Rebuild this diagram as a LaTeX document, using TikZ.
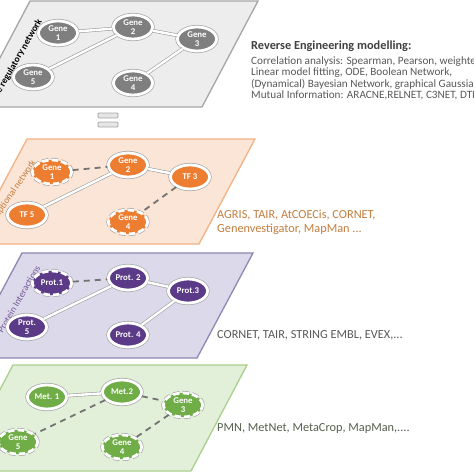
\documentclass[tikz,border=0pt]{standalone}
\usepackage{fontspec}
\setmainfont{Carlito}
\usetikzlibrary{shapes.geometric}
\definecolor{gplane}{HTML}{EDEDED}
\definecolor{gborder}{HTML}{A6A6A6}
\definecolor{gnodec}{HTML}{7F7F7F}
\definecolor{oplane}{HTML}{FBE5D6}
\definecolor{oborder}{HTML}{F4B183}
\definecolor{onodec}{HTML}{ED7D31}
\definecolor{pplane}{HTML}{DCD9EA}
\definecolor{pborder}{HTML}{8E86B4}
\definecolor{pnodec}{HTML}{5B3A87}
\definecolor{mplane}{HTML}{E2F0D9}
\definecolor{mborder}{HTML}{A9D18E}
\definecolor{mnodec}{HTML}{70AD47}
\definecolor{headc}{HTML}{404040}
\definecolor{bodyc}{HTML}{595959}
\definecolor{otextc}{HTML}{C37D3F}
\definecolor{mtextc}{HTML}{55604D}
\tikzset{
  plane/.style={line width=1.3pt},
  netnode/.style={ellipse, minimum width=39pt, minimum height=24pt, inner sep=0pt,
    align=center, font=\bfseries\fontsize{8.8}{9.5}\selectfont, text=white,
    draw=white, line width=2.8pt, preaction={draw=black!35, line width=4.2pt}},
  dashnode/.style={netnode, dash pattern=on 6.5pt off 3pt},
  soled/.style={draw=black!38, line width=0.6pt, double=white, double distance=2.4pt},
  dashed edge/.style={draw=black!55, line width=1.8pt, dash pattern=on 6pt off 5pt},
  layerlabel/.style={rotate=60, anchor=east, inner sep=0pt, font=\fontsize{9.5}{9.5}\selectfont},
  bodytext/.style={anchor=base west, inner sep=0pt, text=bodyc, font=\fontsize{11.2}{12}\selectfont},
  dbtext/.style={anchor=base west, inner sep=0pt, font=\fontsize{12.3}{14}\selectfont}
}
\begin{document}
\begin{tikzpicture}[x=1pt, y=-1pt]
\useasboundingbox (0,0) rectangle (474,474);
\clip (0,0) rectangle (474,474);
\fill[white] (0,0) rectangle (474,474);

% planes
\draw[plane, fill=gplane, draw=gborder] (30,1) -- (258,1) -- (202,107) -- (-26,107) -- cycle;
\draw[plane, fill=oplane, draw=oborder] (27,139) -- (255,139) -- (199,244) -- (-29,244) -- cycle;
\draw[plane, fill=pplane, draw=pborder] (22,253) -- (253,253) -- (197,358) -- (-34,358) -- cycle;
\draw[plane, fill=mplane, draw=mborder] (13,365) -- (247,365) -- (191,471) -- (-43,471) -- cycle;

% equal sign
\draw[gborder, fill=black!10, line width=0.8pt, rounded corners=1pt] (98,113) rectangle (118,118);
\draw[gborder, fill=black!10, line width=0.8pt, rounded corners=1pt] (98,122) rectangle (118,127);

% layer labels
\node[layerlabel, font=\bfseries\fontsize{9.5}{9.5}\selectfont, text=black] (lg) at (40,20) {Gene regulatory network};
\node[layerlabel, rotate=-4, text=otextc] (lo) at (34,161) {Transcriptional network};
\node[layerlabel, text=pnodec!85] (lp) at (38,266) {Protein Interactions};

% gray layer
\begin{scope}[every node/.append style={fill=gnodec, text=black!12}]
\node[netnode] (g1) at (58,33) {Gene\\1};
\node[netnode] (g2) at (133,27) {Gene\\2};
\node[netnode] (g3) at (197,39) {Gene\\3};
\node[netnode] (g4) at (133,83) {Gene\\4};
\node[netnode] (g5) at (33,77) {Gene\\5};
\end{scope}

% orange layer
\begin{scope}[every node/.append style={fill=onodec}]
\node[dashnode] (o1) at (52,172) {Gene\\1};
\node[netnode] (o2) at (128,165) {Gene\\2};
\node[netnode] (o3) at (190,177) {TF 3};
\node[dashnode] (o4) at (128,222) {Gene\\4};
\node[netnode] (o5) at (27,215) {TF 5};
\end{scope}

% purple layer
\begin{scope}[every node/.append style={fill=pnodec}]
\node[dashnode] (p1) at (52,283) {Prot.1};
\node[netnode] (p2) at (128,278) {Prot. 2};
\node[netnode] (p3) at (188,291) {Prot.3};
\node[netnode] (p4) at (128,335) {Prot. 4};
\node[netnode] (p5) at (27,327) {Prot.\\5};
\end{scope}

% green layer
\begin{scope}[every node/.append style={fill=mnodec}]
\node[netnode] (m1) at (47,397) {Met. 1};
\node[netnode] (m2) at (122,392) {Met.2};
\node[dashnode] (n3) at (183,405) {Gene\\3};
\node[dashnode] (n4) at (122,447) {Gene\\4};
\node[dashnode] (n5) at (18,442) {Gene\\5};
\end{scope}

% edges
\draw[soled] (g1) -- (g2);
\draw[soled] (g2) -- (g3);
\draw[soled] (g5) -- (g2);
\draw[soled] (g3) -- (g4);

\draw[dashed edge] (o1) -- (o2);
\draw[soled] (o2) -- (o3);
\draw[soled] (o5) -- (o2);
\draw[dashed edge] (o3) -- (o4);

\draw[dashed edge] (p1) -- (p2);
\draw[soled] (p2) -- (p3);
\draw[soled] (p5) -- (p2);
\draw[soled] (p3) -- (p4);

\draw[soled] (m1) -- (m2);
\draw[dashed edge] (m2) -- (n3);
\draw[dashed edge] (m2) -- (n5);
\draw[dashed edge] (n3) -- (n4);

% right texts
\node[anchor=base west, inner sep=0pt, text=headc, font=\bfseries\fontsize{12.3}{13}\selectfont] (h) at (251,49.5) {Reverse Engineering modelling:};
\node[bodytext] (b1) at (251,64) {Correlation analysis: Spearman, Pearson, weighted};
\node[bodytext] (b2) at (251,75.5) {Linear model fitting, ODE, Boolean Network,};
\node[bodytext] (b3) at (251,87) {(Dynamical) Bayesian Network, graphical Gaussian};
\node[bodytext] (b4) at (251,98.5) {Mutual Information: ARACNE,RELNET, C3NET, DTI,};

\node[dbtext, text=otextc] (t1) at (217,218) {AGRIS, TAIR, AtCOECis, CORNET,};
\node[dbtext, text=otextc] (t2) at (217,232) {Genenvestigator, MapMan ...};
\node[dbtext, text=bodyc] (t3) at (217,338) {CORNET, TAIR, STRING EMBL, EVEX,...};
\node[dbtext, text=mtextc] (t4) at (217,431) {PMN, MetNet, MetaCrop, MapMan,....};
\end{tikzpicture}
\end{document}
